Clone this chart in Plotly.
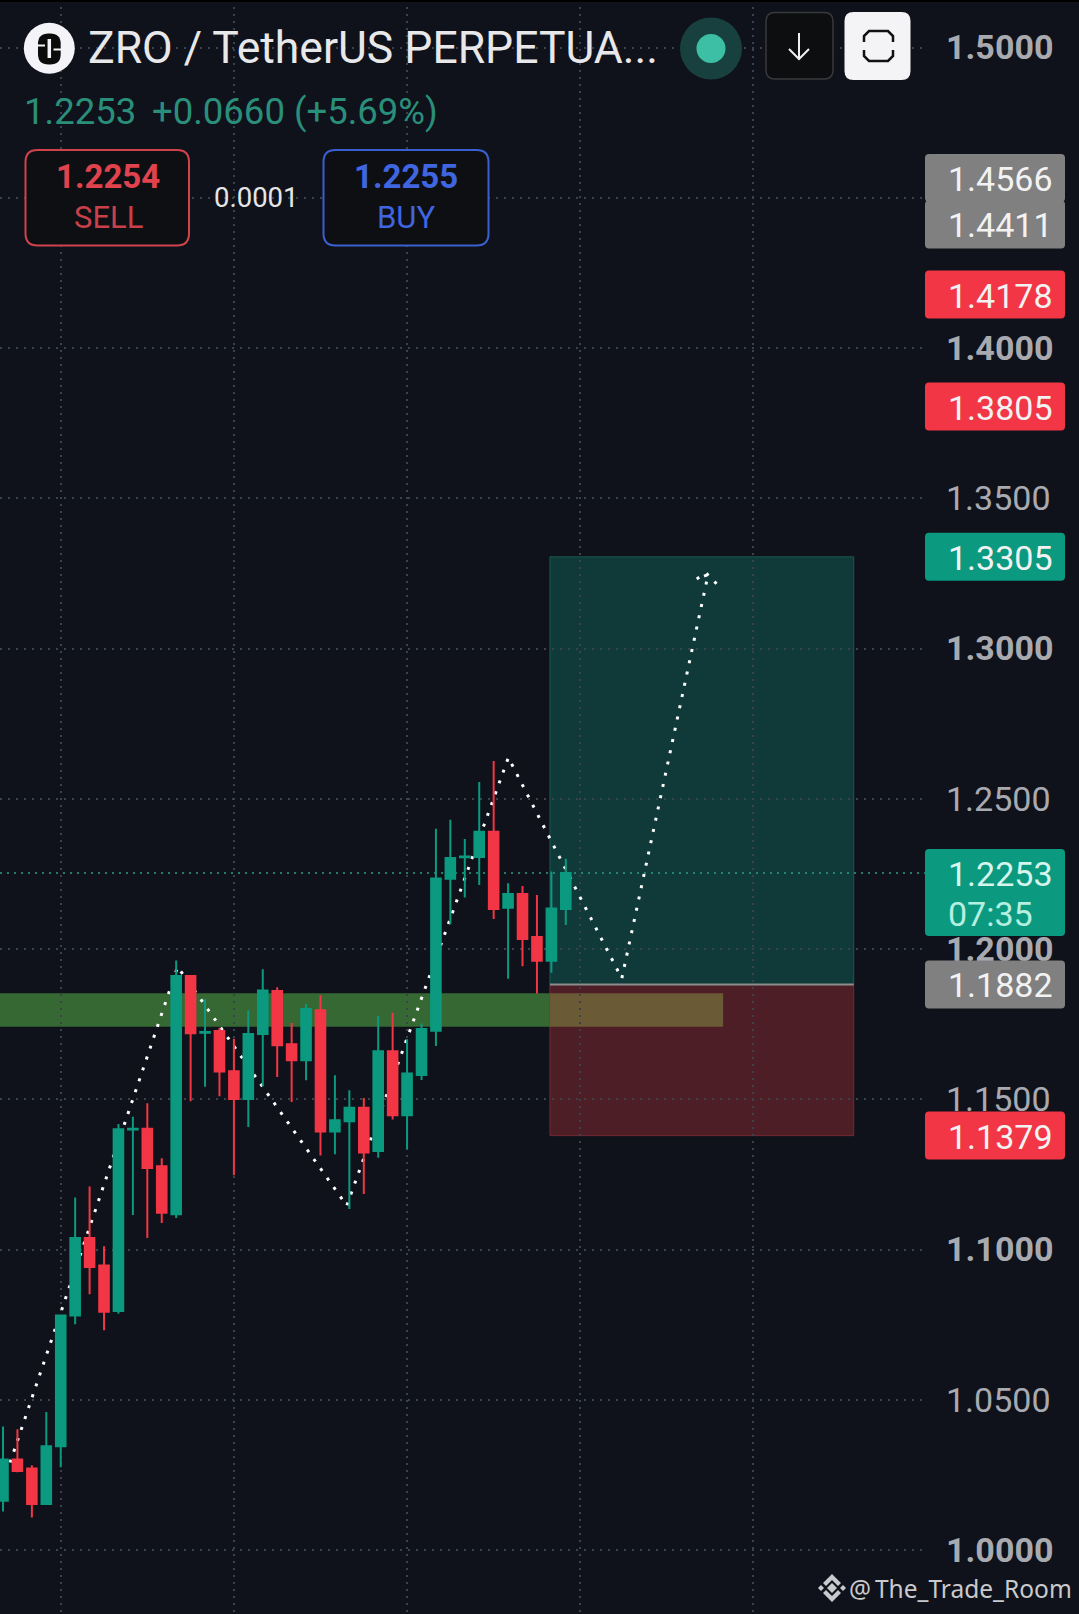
import plotly.graph_objects as go

WIDTH = 1079
HEIGHT = 1614
PLOT_RIGHT = 925

BG = "#0f121a"
GREEN = "#0b9a80"
RED = "#f23645"
GREY_BADGE = "#808080"

# candles
CANDLE_X = list(range(40))
OPEN = [1.0164, 1.0301, 1.0271, 1.0153, 1.0345, 1.0780, 1.1038, 1.0947, 1.0795, 1.1399,
        1.1402, 1.1277, 1.1117, 1.1910, 1.1721, 1.1727, 1.1593, 1.1501, 1.1717, 1.1860,
        1.1683, 1.1630, 1.1796, 1.1393, 1.1427, 1.1472, 1.1328, 1.1660, 1.1447, 1.1581,
        1.1728, 1.2234, 1.2305, 1.2306, 1.2390, 1.2137, 1.2183, 1.2040, 1.1961, 1.2133]
HIGH = [1.0411, 1.0402, 1.0282, 1.0459, 1.0780, 1.1173, 1.1210, 1.1011, 1.1418, 1.1442,
        1.1487, 1.1304, 1.1962, 1.1910, 1.1833, 1.1738, 1.1701, 1.1795, 1.1933, 1.1873,
        1.1754, 1.1817, 1.1846, 1.1580, 1.1530, 1.1504, 1.1777, 1.1788, 1.1700, 1.1752,
        1.2400, 1.2430, 1.2366, 1.2556, 1.2626, 1.2219, 1.2210, 1.2180, 1.2258, 1.2300]
LOW = [1.0128, 1.0259, 1.0108, 1.0153, 1.0275, 1.0751, 1.0851, 1.0731, 1.0786, 1.1115,
       1.1038, 1.1088, 1.1105, 1.1493, 1.1542, 1.1510, 1.1247, 1.1408, 1.1543, 1.1574,
       1.1491, 1.1563, 1.1313, 1.1317, 1.1135, 1.1185, 1.1305, 1.1433, 1.1334, 1.1564,
       1.1677, 1.2082, 1.2171, 1.2213, 1.2100, 1.1901, 1.1943, 1.1852, 1.1921, 1.2080]
CLOSE = [1.0301, 1.0263, 1.0153, 1.0345, 1.0780, 1.1038, 1.0942, 1.0793, 1.1400, 1.1402,
         1.1271, 1.1122, 1.1910, 1.1720, 1.1724, 1.1592, 1.1501, 1.1717, 1.1862, 1.1680,
         1.1630, 1.1800, 1.1393, 1.1430, 1.1472, 1.1323, 1.1660, 1.1447, 1.1586, 1.1734,
         1.2235, 1.2303, 1.2308, 1.2390, 1.2133, 1.2183, 1.2033, 1.1961, 1.2135, 1.2253]

# hand drawn projection, dotted
PATH_X = [0.49, 12.1, 23.82, 35.02, 42.88, 48.86, 48.05, 48.72, 49.64]
PATH_Y = [1.0291, 1.1941, 1.1146, 1.2637, 1.1902, 1.3246, 1.3231, 1.3251, 1.3206]

TICK_VALS = [1.5, 1.45, 1.4, 1.35, 1.3, 1.25, 1.2, 1.15, 1.1, 1.05, 1.0]
TICK_TEXT = ["<b>1.5000</b>", "1.4500", "<b>1.4000</b>", "1.3500", "<b>1.3000</b>", "1.2500",
             "<b>1.2000</b>", "1.1500", "<b>1.1000</b>", "1.0500", "<b>1.0000</b>"]

LAST_PRICE = 1.2253
ENTRY = 1.1882
TARGET = 1.3305
STOP = 1.1379
ZONE_LOW = 1.1741
ZONE_HIGH = 1.1853
BOX_LEFT = 37.9
BOX_RIGHT = 58.95
ZONE_RIGHT = 49.9

# right hand price badges: price, colour
BADGES = [(1.4566, GREY_BADGE), (1.4411, GREY_BADGE), (1.4178, RED), (1.3805, RED),
          (1.3305, GREEN), (1.1882, GREY_BADGE), (1.1379, RED)]

X_RANGE = [-0.208, 63.89]
Y_RANGE = [0.97870, 1.51581]


def px(x):
    return x / WIDTH


def py(y):
    return 1 - y / HEIGHT


def rounded(x0, y0, x1, y1, r):
    # rounded box in page pixels, as a paper referenced svg path
    pts = [
        f"M{px(x0 + r)},{py(y0)}", f"L{px(x1 - r)},{py(y0)}", f"Q{px(x1)},{py(y0)} {px(x1)},{py(y0 + r)}",
        f"L{px(x1)},{py(y1 - r)}", f"Q{px(x1)},{py(y1)} {px(x1 - r)},{py(y1)}",
        f"L{px(x0 + r)},{py(y1)}", f"Q{px(x0)},{py(y1)} {px(x0)},{py(y1 - r)}",
        f"L{px(x0)},{py(y0 + r)}", f"Q{px(x0)},{py(y0)} {px(x0 + r)},{py(y0)}Z",
    ]
    return " ".join(pts)


def poly(points, close=True):
    path = " ".join(("M" if i == 0 else "L") + f"{px(x)},{py(y)}" for i, (x, y) in enumerate(points))
    return path + ("Z" if close else "")


def box_shape(x0, y0, x1, y1, r, fill, line="rgba(0,0,0,0)", width=0):
    return dict(type="path", xref="paper", yref="paper", path=rounded(x0, y0, x1, y1, r),
                fillcolor=fill, line=dict(color=line, width=width), layer="above")


def glyph(path, color, width=0, fill=None):
    return dict(type="path", xref="paper", yref="paper", path=path, fillcolor=fill or "rgba(0,0,0,0)",
                line=dict(color=color, width=width), layer="above")


def circle(cx, cy, r, fill):
    return dict(type="circle", xref="paper", yref="paper", x0=px(cx - r), x1=px(cx + r),
                y0=py(cy + r), y1=py(cy - r), fillcolor=fill, line=dict(width=0), layer="above")


def label(text, x, y, size, color, anchor="left", family="Roboto"):
    return dict(text=text, x=px(x), y=py(y), xref="paper", yref="paper", showarrow=False,
                xanchor=anchor, yanchor="middle", font=dict(family=family, size=size, color=color))


def data_rect(x0, x1, y0, y1, fill, line="rgba(0,0,0,0)"):
    return dict(type="rect", xref="x", yref="y", x0=x0, x1=x1, y0=y0, y1=y1, fillcolor=fill,
                line=dict(color=line, width=1), layer="below")


shapes = [
    # top strip of the screenshot
    box_shape(0, 0, WIDTH, 2, 0, "#000000"),
    # long position box
    data_rect(BOX_LEFT, BOX_RIGHT, ENTRY, TARGET, "#0f3a39", "#1a5a50"),
    data_rect(BOX_LEFT, BOX_RIGHT, STOP, ENTRY, "#4e1e26", "#742a33"),
    # support zone, olive where it runs over the red box
    data_rect(X_RANGE[0], BOX_LEFT, ZONE_LOW, ZONE_HIGH, "#356832"),
    data_rect(BOX_LEFT, ZONE_RIGHT, ZONE_LOW, ZONE_HIGH, "#6a5b36"),
    dict(type="line", xref="x", yref="y", x0=BOX_LEFT, x1=BOX_RIGHT, y0=ENTRY, y1=ENTRY,
         line=dict(color="#8d8d8d", width=2), layer="below"),
    # last price badge
    box_shape(PLOT_RIGHT, 849, 1065, 936, 4, GREEN),
    # sell / buy boxes
    box_shape(25.5, 150, 189, 245.5, 12, "#0e0f12", "#d0434d", 2),
    box_shape(323.5, 150, 488.5, 245.5, 12, "#0e0f12", "#3a5fd0", 2),
    # header buttons
    circle(711, 48.5, 31, "#17403f"),
    circle(711, 48.5, 14.5, "#3dbfa5"),
    box_shape(766, 12.5, 833, 79, 9, "#0d0e10", "#3a3a3d", 1.5),
    glyph(poly([(799, 33), (799, 59)], False), "#f0f0f0", 2),
    glyph(poly([(789, 49), (799, 59), (809, 49)], False), "#f0f0f0", 2),
    box_shape(844.5, 12, 910.5, 80, 9, "#f4f4f6"),
    glyph(poly([(864, 42), (864, 36), (869, 31), (888, 31), (893, 36), (893, 42)], False), "#111111", 2.5),
    glyph(poly([(864, 50), (864, 56), (869, 61), (888, 61), (893, 56), (893, 50)], False), "#111111", 2.5),
    # token logo
    circle(49.3, 48.3, 25.5, "#f4f4f8"),
    box_shape(38, 33.5, 60.7, 64.5, 10.5, "#0b0b0b"),
    glyph(poly([(49.3, 39), (49.3, 58)], False), "#f4f4f8", 3.5),
    glyph(poly([(37, 45.5), (45, 45.5)], False), "#f4f4f8", 2),
    glyph(poly([(53.5, 49.5), (62, 49.5)], False), "#f4f4f8", 2),
    # watermark logo
    glyph(poly([(832, 1583), (837, 1588), (832, 1593), (827, 1588)]), "#c9cacd", 0, "#c9cacd"),
    glyph(poly([(821, 1585), (824, 1588), (821, 1591), (818, 1588)]), "#c9cacd", 0, "#c9cacd"),
    glyph(poly([(843, 1585), (846, 1588), (843, 1591), (840, 1588)]), "#c9cacd", 0, "#c9cacd"),
    glyph(poly([(832, 1574), (841, 1583), (838, 1586), (832, 1580), (826, 1586), (823, 1583)]), "#c9cacd", 0, "#c9cacd"),
    glyph(poly([(832, 1602), (841, 1593), (838, 1590), (832, 1596), (826, 1590), (823, 1593)]), "#c9cacd", 0, "#c9cacd"),
]

annotations = [
    label("ZRO / TetherUS PERPETUA...", 86, 48, 44.5, "#e8e8ea"),
    label("1.2253", 22, 112, 36.5, "#2a8f7a"),
    label("+0.0660 (+5.69%)", 150, 112, 36.5, "#2a8f7a"),
    label("<b>1.2254</b>", 108, 177, 33, "#e0434d", "center"),
    label("SELL", 108, 217, 31, "#c8404a", "center"),
    label("0.0001", 256, 197, 27.5, "#e6e6e6", "center"),
    label("<b>1.2255</b>", 406, 177, 33, "#3f66e0", "center"),
    label("BUY", 406, 217, 31, "#3f66e0", "center"),
    label(f"{LAST_PRICE:.4f}", 946, 874, 34, "#d6f5ec"),
    label("07:35", 946, 914, 34, "#b5efe0"),
    label("@", 847, 1588, 24.5, "#c9cacd", family="Noto Sans"),
    label("The_Trade_Room", 873, 1588, 24.5, "#c9cacd", family="Noto Sans"),
]

for price, colour in BADGES:
    centre = 949 + (1.2 - price) * 3005
    shapes.append(box_shape(PLOT_RIGHT, centre - 24, 1065, centre + 24, 4, colour))
    annotations.append(label(f"{price:.4f}", 946, centre + 1, 34, "#f2f2f2"))

fig = go.Figure()

# these two stay on the main axes so the candles cover them
fig.add_trace(go.Scatter(x=X_RANGE, y=[LAST_PRICE, LAST_PRICE], mode="lines", hoverinfo="skip",
                         line=dict(color="#2f9d88", width=1.5, dash="2px,5px")))
fig.add_trace(go.Scatter(x=PATH_X, y=PATH_Y, mode="lines", hoverinfo="skip",
                         line=dict(color="#ffffff", width=3, dash="3px,8.5px")))

fig.add_trace(go.Candlestick(
    x=CANDLE_X, open=OPEN, high=HIGH, low=LOW, close=CLOSE, xaxis="x2", yaxis="y2",
    increasing=dict(line=dict(color=GREEN, width=2), fillcolor=GREEN),
    decreasing=dict(line=dict(color=RED, width=2), fillcolor=RED),
    whiskerwidth=0,
))

fig.update_layout(
    width=WIDTH,
    height=HEIGHT,
    margin=dict(l=0, r=0, t=0, b=0),
    paper_bgcolor=BG,
    plot_bgcolor=BG,
    showlegend=False,
    boxgap=0.05,
    shapes=shapes,
    annotations=annotations,
    xaxis=dict(domain=[0, PLOT_RIGHT / WIDTH], range=X_RANGE, tick0=4, dtick=12, showticklabels=False,
               showgrid=True, gridcolor="#3a424c", griddash="2px,5px", gridwidth=1.5, zeroline=False,
               showline=False, ticks=""),
    yaxis=dict(domain=[0, 1], range=Y_RANGE, side="right", tickmode="array", tickvals=TICK_VALS,
               ticktext=TICK_TEXT, ticklabelstandoff=20, tickfont=dict(family="Roboto", size=34, color="#a8aab0"),
               showgrid=True, gridcolor="#3a424c", griddash="2px,6px", gridwidth=1.5, zeroline=False,
               showline=False, ticks=""),
    xaxis2=dict(domain=[0, PLOT_RIGHT / WIDTH], range=X_RANGE, overlaying="x", visible=False,
                rangeslider=dict(visible=False)),
    yaxis2=dict(domain=[0, 1], range=Y_RANGE, overlaying="y", visible=False),
)

fig.write_html("out.html", config=dict(displayModeBar=False), post_script="document.body.style.margin='0';")
